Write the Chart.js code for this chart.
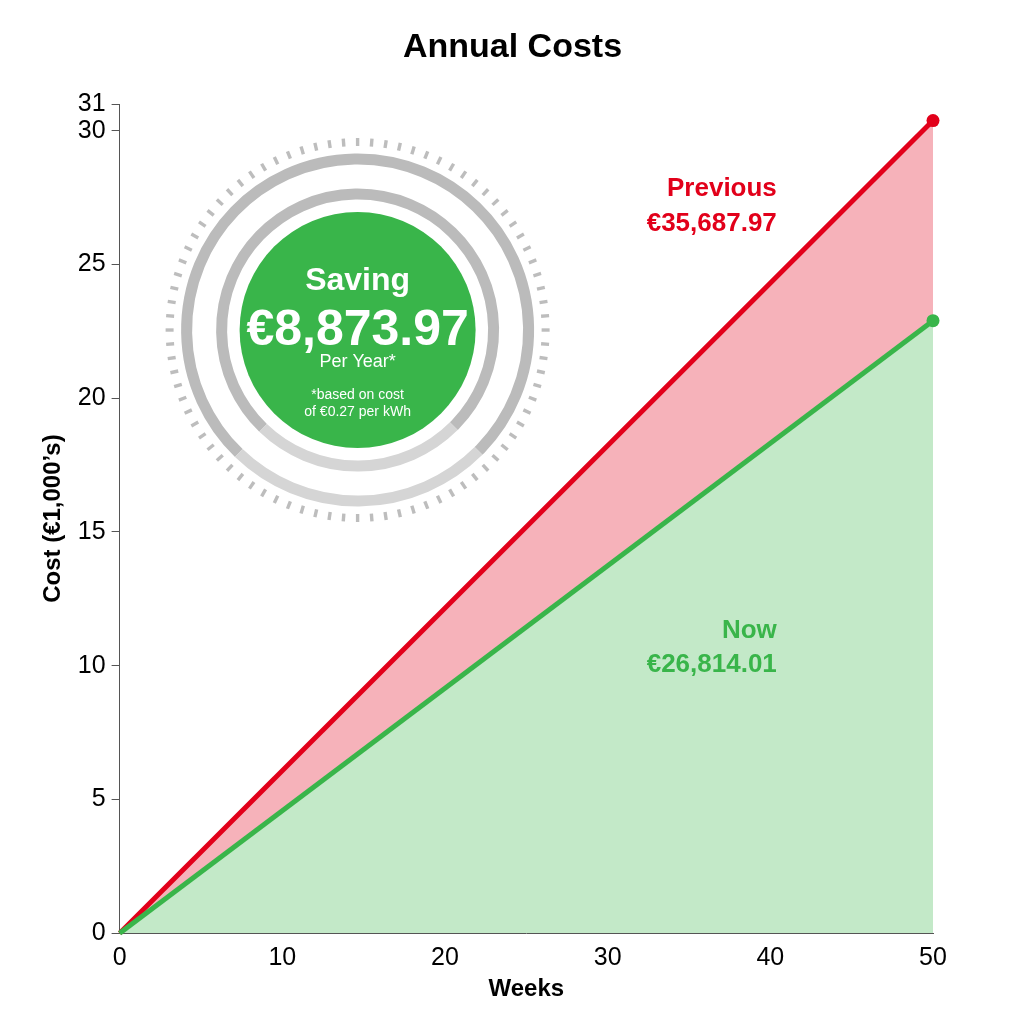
<!DOCTYPE html>
<html><head><meta charset="utf-8">
<script src="https://cdn.jsdelivr.net/npm/chart.js@4/dist/chart.umd.min.js"></script>
<style>html,body{margin:0;background:#fff}#w{width:1025px;height:1025px}</style>
</head><body><div id="w"><canvas id="c"></canvas></div>
<script>
const weeks = [0, 50];
const previousCost = [0, 30.38];
const nowCost = [0, 22.9];
const yTicks = [0, 5, 10, 15, 20, 25, 30, 31];
const xTicks = [0, 10, 20, 30, 40, 50];
const F = '"Liberation Sans", Arial, sans-serif';

const deco = {
  id: 'deco',
  beforeDatasetsDraw(chart) {
    const ctx = chart.ctx;
    ctx.save();
    ctx.fillStyle = '#000'; ctx.textAlign = 'center'; ctx.textBaseline = 'middle';
    ctx.font = 'bold 34px ' + F;
    ctx.fillText('Annual Costs', chart.width / 2, 48);
    ctx.restore();
  },
  afterDatasetsDraw(chart) {
    const ctx = chart.ctx, xs = chart.scales.x, ys = chart.scales.y;
    const cx = xs.getPixelForValue(14.63), cy = ys.getPixelForValue(22.55);
    ctx.save();
    ctx.strokeStyle = '#bdbdbd'; ctx.lineWidth = 3.4;
    const n = 84;
    for (let i = 0; i < n; i++) {
      const a = i * 2 * Math.PI / n;
      ctx.beginPath();
      ctx.moveTo(cx + Math.cos(a) * 184, cy + Math.sin(a) * 184);
      ctx.lineTo(cx + Math.cos(a) * 192, cy + Math.sin(a) * 192);
      ctx.stroke();
    }
    const a1 = 45 * Math.PI / 180, a2 = 134 * Math.PI / 180;
    [[171, 11], [136, 11]].forEach(([r, w]) => {
      ctx.lineWidth = w;
      ctx.strokeStyle = '#bbbbbb';
      ctx.beginPath(); ctx.arc(cx, cy, r, a2, a1 + 2 * Math.PI); ctx.stroke();
      ctx.strokeStyle = '#d5d5d5';
      ctx.beginPath(); ctx.arc(cx, cy, r, a1, a2); ctx.stroke();
    });
    ctx.fillStyle = '#39b54a';
    ctx.beginPath(); ctx.arc(cx, cy, 118, 0, 2 * Math.PI); ctx.fill();
    ctx.fillStyle = '#fff'; ctx.textAlign = 'center'; ctx.textBaseline = 'alphabetic';
    ctx.font = 'bold 32px ' + F; ctx.fillText('Saving', cx, cy - 40);
    ctx.font = 'bold 50px ' + F; ctx.fillText('€8,873.97', cx, cy + 15);
    ctx.font = '18px ' + F; ctx.fillText('Per Year*', cx, cy + 37);
    ctx.font = '14px ' + F;
    ctx.fillText('*based on cost', cx, cy + 69);
    ctx.fillText('of €0.27 per kWh', cx, cy + 86);
    ctx.textAlign = 'right'; ctx.font = 'bold 26px ' + F;
    const lx = xs.getPixelForValue(40.4);
    ctx.fillStyle = '#e2001a';
    ctx.fillText('Previous', lx, ys.getPixelForValue(27.55));
    ctx.fillText('€35,687.97', lx, ys.getPixelForValue(26.25));
    ctx.fillStyle = '#39b54a';
    ctx.fillText('Now', lx, ys.getPixelForValue(11.05));
    ctx.fillText('€26,814.01', lx, ys.getPixelForValue(9.75));
    ctx.restore();
  }
};

new Chart(document.getElementById('c'), {
  type: 'scatter',
  data: {
    datasets: [
      { data: weeks.map((w, i) => ({ x: w, y: nowCost[i] })), showLine: true,
        borderColor: '#39b54a', backgroundColor: 'rgba(57,181,74,0.3)', fill: 'origin', borderWidth: 5,
        pointRadius: [0, 6.5], pointBackgroundColor: '#39b54a', pointBorderWidth: 0, order: 1, clip: false },
      { data: weeks.map((w, i) => ({ x: w, y: previousCost[i] })), showLine: true,
        borderColor: '#e2001a', backgroundColor: 'rgba(226,0,26,0.3)', fill: '-1', borderWidth: 5,
        pointRadius: [0, 6.5], pointBackgroundColor: '#e2001a', pointBorderWidth: 0, order: 2, clip: false }
    ]
  },
  options: {
    responsive: true, maintainAspectRatio: false, animation: false,
    layout: { padding: { top: 104, right: 92, left: 35, bottom: 21 } },
    plugins: { legend: { display: false }, tooltip: { enabled: false }, title: { display: false } },
    scales: {
      x: { type: 'linear', min: 0, max: 50,
        afterBuildTicks: a => { a.ticks = xTicks.map(v => ({ value: v })); },
        grid: { display: false },
        border: { color: '#555', width: 1 },
        ticks: { color: '#000', font: { family: F, size: 25 }, padding: 2 },
        title: { display: true, text: 'Weeks', color: '#000', font: { family: F, size: 24, weight: 'bold' }, padding: 0 } },
      y: { type: 'linear', min: 0, max: 31,
        afterBuildTicks: a => { a.ticks = yTicks.map(v => ({ value: v })); },
        grid: { display: true, drawOnChartArea: false, drawTicks: true, tickLength: 8, color: '#555' },
        border: { color: '#555', width: 1 },
        ticks: { color: '#000', font: { family: F, size: 25 }, padding: 6 },
        title: { display: true, text: "Cost (€1,000’s)", color: '#000', font: { family: F, size: 24, weight: 'bold' }, padding: 4 } }
    }
  },
  plugins: [deco]
});
</script></body></html>
